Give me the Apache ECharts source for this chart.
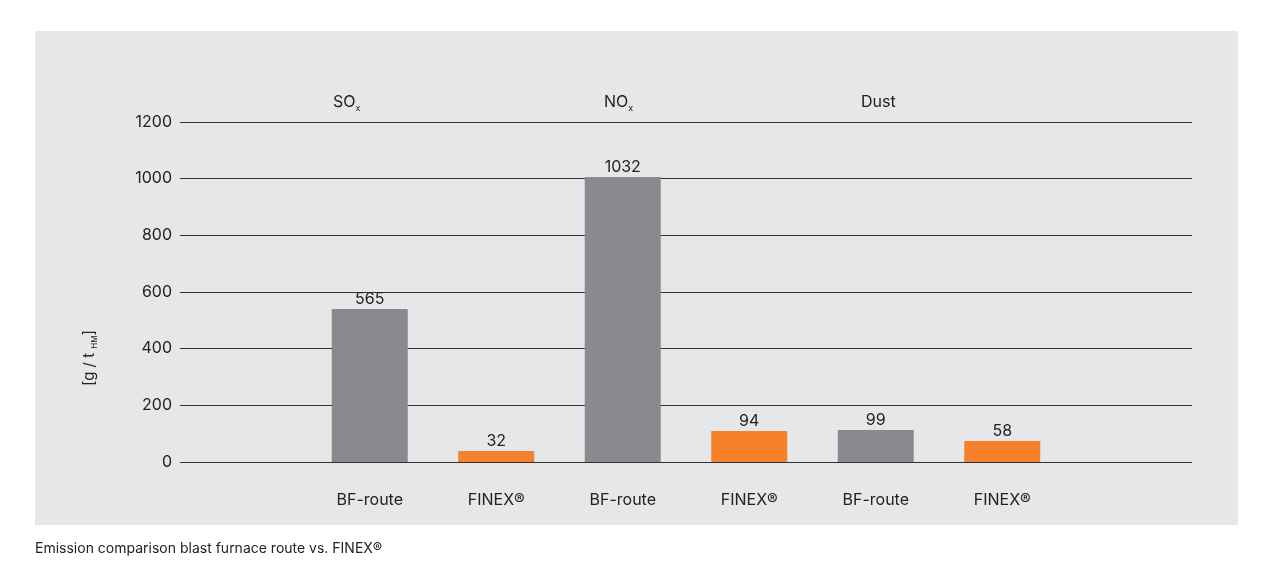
<!DOCTYPE html>
<html><head><meta charset="utf-8">
<script src="https://cdn.jsdelivr.net/npm/echarts@6/dist/echarts.min.js"></script>
<style>html,body{margin:0;background:#fff}#c{width:1288px;height:586px}</style>
</head><body><div id="c"></div>
<script>
// 8 slots, first and last empty
const categories = ['', 'BF-route', 'FINEX®', 'BF-route', 'FINEX®', 'BF-route', 'FINEX®', ''];
const barHeights = [null, 540, 39, 1006, 109, 113, 74, null];
const barLabels = ['', '565', '32', '1032', '94', '99', '58', ''];
const barKinds = ['', 'bf', 'finex', 'bf', 'finex', 'bf', 'finex', ''];
const yTicks = [0, 200, 400, 600, 800, 1000, 1200];

const colors = {bf: '#898a8d', finex: '#f5822a'};
const chart = echarts.init(document.getElementById('c'));
const font = 'Inter, "Open Sans", sans-serif';

chart.setOption({
  animation: false,
  graphic: [
    {type: 'rect', left: 35, top: 31, shape: {width: 1203, height: 494}, style: {fill: '#e6e7e8'}, z: -10},
    {type: 'text', left: 35, top: 542, style: {text: 'Emission comparison blast furnace route vs. FINEX®', font: '14px ' + font, fill: '#222'}},
    {type: 'text', left: 333, top: 94, style: {rich: {a: {fontSize: 16, fontFamily: font, fill: '#222'}, s: {fontSize: 9, fontFamily: font, fill: '#222', padding: [12, 0, 0, 0]}}, text: '{a|SO}{s|x}'}},
    {type: 'text', left: 604, top: 94, style: {rich: {a: {fontSize: 16, fontFamily: font, fill: '#222'}, s: {fontSize: 9, fontFamily: font, fill: '#222', padding: [12, 0, 0, 0]}}, text: '{a|NO}{s|x}'}},
    {type: 'text', left: 861, top: 94, style: {text: 'Dust', font: '16px ' + font, fill: '#222'}},
    {type: 'text', left: 82, top: 330, rotation: Math.PI / 2, style: {rich: {a: {fontSize: 15, fontFamily: font, fill: '#222'}, s: {fontSize: 8, fontFamily: font, fill: '#222', padding: [10, 0, 0, 0]}}, text: '{a|[g / t }{s|HM}{a|]}'}}
  ],
  grid: {left: 180, right: 96, top: 122, bottom: 124},
  xAxis: {
    type: 'category', data: categories,
    axisLine: {show: false}, axisTick: {show: false},
    axisLabel: {fontSize: 16, fontFamily: font, color: '#222', margin: 30, interval: 0}
  },
  yAxis: {
    type: 'value', min: 0, max: 1200, interval: 200,
    axisLine: {show: false}, axisTick: {show: false},
    axisLabel: {fontSize: 16, fontFamily: font, color: '#222', margin: 8,
      formatter: v => yTicks.includes(v) ? String(v) : ''},
    splitLine: {lineStyle: {color: '#333', width: 1}}
  },
  series: [{
    type: 'bar', barWidth: 76,
    data: barHeights.map((v, i) => ({value: v, itemStyle: {color: colors[barKinds[i]] || 'transparent'}})),
    label: {show: true, position: 'top', distance: 2, fontSize: 16, fontFamily: font, color: '#222',
      formatter: p => barLabels[p.dataIndex]}
  }]
});
</script></body></html>
